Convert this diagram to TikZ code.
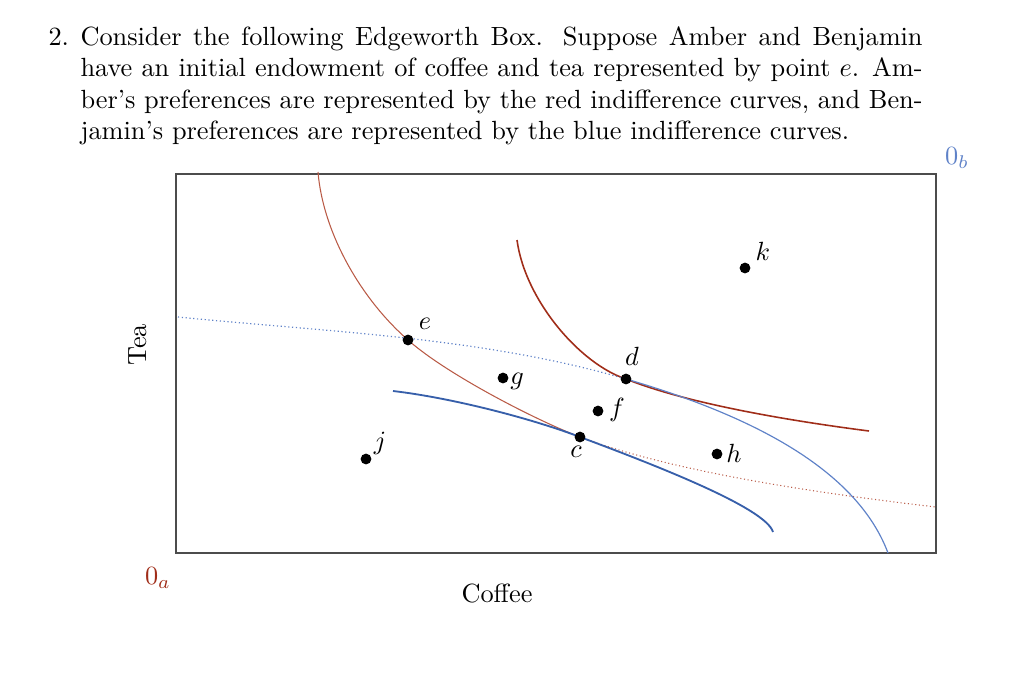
\documentclass[tikz,border=0pt]{standalone}
\usepackage{tikz}
\usepackage{xcolor}

\definecolor{amberred}{RGB}{185,90,70}
\definecolor{amberdark}{RGB}{160,45,25}
\definecolor{benblue}{RGB}{95,130,200}
\definecolor{bendark}{RGB}{55,95,170}

\begin{document}
\begin{tikzpicture}[x=0.38pt, y=-0.38pt,
  pt/.style={circle, fill=black, inner sep=0pt, minimum size=4.1pt},
  lab/.style={inner sep=0pt}]
\useasboundingbox (0,0) rectangle (1024,679);
\node[anchor=base west, inner sep=0pt] (num) at (48,45) {2.};
\node[anchor=base west, inner sep=0pt, text width=320pt, align=justify] (question) at (80,45)
  {Consider the following Edgeworth Box.  Suppose Amber and Benjamin\linebreak
   have an initial endowment of coffee and tea represented by point $e$. Am-\linebreak
   ber's preferences are represented by the red indifference curves, and Ben-\linebreak
   jamin's preferences are represented by the blue indifference curves.};
\draw[black!70, line width=0.6pt] (176,174) rectangle (936,553);
\node[lab, text=amberdark] (oa) at (158,578) {$0_a$};
\node[lab, text=benblue] (ob) at (957,158) {$0_b$};
\node[lab, rotate=90] (tea) at (138,345) {Tea};
\node[lab] (coffee) at (497,594) {Coffee};
\draw[amberred, line width=0.4pt] (318,172) .. controls (323,232) and (360,298) .. (408,340)
  .. controls (445,373) and (533,419) .. (580,437);
\draw[amberred, line width=0.4pt, densely dotted] (580,437) .. controls (674,472) and (816,493) .. (936,507);
\draw[amberdark, line width=0.6pt] (517,240) .. controls (525,300) and (580,364) .. (626,379)
  .. controls (691,405) and (799,422) .. (869,431);
\draw[benblue, line width=0.45pt, densely dotted] (178,317) .. controls (328,332) and (482,337) .. (626,379);
\draw[benblue, line width=0.45pt] (626,379) .. controls (760,418) and (858,473) .. (888,553);
\draw[bendark, line width=0.7pt] (393,391) .. controls (453,398) and (533,419) .. (580,437)
  .. controls (655,465) and (766,508) .. (773,532);
\node[pt] (e) at (408,340) {};
\node[pt] (d) at (626,379) {};
\node[pt] (c) at (580,437) {};
\node[pt] (g) at (503,378) {};
\node[pt] (f) at (598,411) {};
\node[pt] (j) at (366,459) {};
\node[pt] (h) at (717,454) {};
\node[pt] (k) at (745,268) {};
\node[lab] (le) at (425,324) {$e$};
\node[lab] (ld) at (632,356) {$d$};
\node[lab] (lc) at (576,452) {$c$};
\node[lab] (lg) at (517,381) {$g$};
\node[lab] (lf) at (617,410) {$f$};
\node[lab] (lj) at (380,443) {$j$};
\node[lab] (lh) at (734,453) {$h$};
\node[lab] (lk) at (763,251) {$k$};
\end{tikzpicture}
\end{document}
